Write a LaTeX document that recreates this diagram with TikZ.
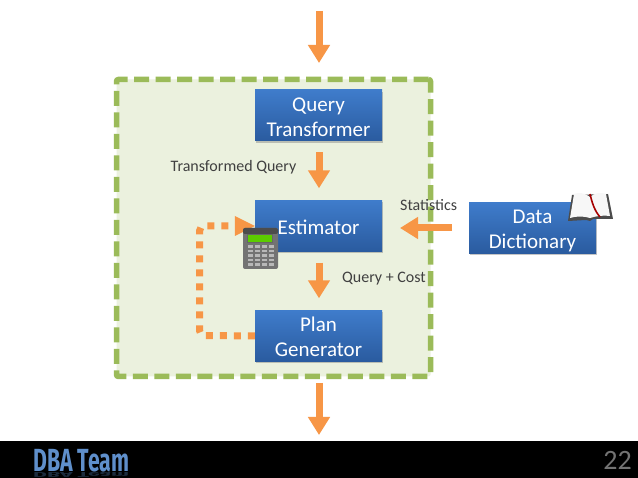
\documentclass[tikz,border=0pt]{standalone}
\usepackage{fontspec}
\setmainfont{Carlito}
\newfontfamily\footfont{Fira Sans}
\usetikzlibrary{arrows.meta,shadows,calc}
\definecolor{orangearrow}{HTML}{F79646}
\definecolor{framegreen}{HTML}{9BBB59}
\definecolor{framefill}{HTML}{EBF1DE}
\definecolor{boxtop}{HTML}{3F7CCB}
\definecolor{boxbot}{HTML}{2A5B9F}
\definecolor{footblue}{HTML}{5F8FCB}
\newcommand\lowerby[1]{\rule{0pt}{#1pt}}
\tikzset{
  x=1pt,y=-1pt,
  bluebox/.style={minimum width=127pt,minimum height=51pt,inner sep=0pt,align=center,
    top color=boxtop,bottom color=boxbot,text=white,font=\fontsize{21}{25}\selectfont,
    drop shadow={shadow xshift=1pt,shadow yshift=-2pt,opacity=.45}},
  flow/.style={draw=orangearrow,line width=7pt,-{Triangle[length=18pt,width=21pt]},shorten >=0pt},
  loopflow/.style={draw=orangearrow,line width=7pt,dash pattern=on 7pt off 7pt,rounded corners=5pt},
  tag/.style={text=black!75,font=\fontsize{16}{18}\selectfont,inner sep=0pt},
}
\begin{document}
\begin{tikzpicture}
\useasboundingbox (0,0) rectangle (638,478);
\fill[white] (0,0) rectangle (638,478);
% frame
\node (frame) [draw=framegreen,fill=framefill,line width=5.5pt,dash pattern=on 15pt off 6.5pt,rounded corners=2pt,
  minimum width=314pt,minimum height=297pt,inner sep=0pt] at (273.5,228) {};
% boxes
\node (qt) [bluebox] at (318.5,115.5) {\lowerby{17}Query\\Transformer};
\node (est) [bluebox] at (318.5,226) {\lowerby{17}Estimator};
\node (pg) [bluebox] at (318.5,336) {\lowerby{17}Plan\\Generator};
\node (dd) [bluebox] at (532.5,228) {\lowerby{19}Data\\Dictionary};
% free ends
\coordinate (inS) at (319,11);
\coordinate (inE) at (319,63);
\coordinate (outS) at (319,383);
\coordinate (outE) at (319,435);
\coordinate (statS) at (452,228);
\coordinate (statE) at (400,228);
\coordinate (bendA) at (199.5,335.5);
\coordinate (bendB) at (199.5,226);
% arrows
\draw[flow] (inS) -- (inE);
\draw[flow] ($(qt.south)+(0.5,11)$) -- ($(est.north)+(0.5,-12)$);
\draw[flow] ($(est.south)+(0.5,11)$) -- ($(pg.north)+(0.5,-12)$);
\draw[flow] (outS) -- (outE);
\draw[flow] (statS) -- (statE);
\draw[loopflow] (pg.west) -- (bendA) -- (bendB) -- ($(est.west)+(-12,0)$);
\draw[draw=none,fill=orangearrow] (est.west) -- ++(-20,-10) -- ++(0,20) -- cycle;
% labels
\node (lt) [tag,anchor=west] at (170.5,167.5) {Transformed Query};
\node (lc) [tag,anchor=west] at (342,279) {Query + Cost};
\node (ls) [tag,anchor=west] at (400,205) {Statistics};
% calculator
\begin{scope}[shift={(243,228)}]
  \fill[black!55,rounded corners=2pt] (0,0) rectangle (35,41);
  \fill[black!70,rounded corners=2pt] (0,0) rectangle (35,6);
  \fill[green!55!yellow!80!black,draw=black!60,line width=.5pt] (4,6) rectangle (29,14);
  \foreach \r in {0,1,2,3,4} \foreach \c in {0,1,2,3}
    \fill[black!28] ({5+\c*7},{17.5+\r*4.4}) rectangle ++(4.5,2.6);
\end{scope}
% book
\begin{scope}[shift={(569,192)}]
  \fill[black!70] (-1,29) -- (3,3) -- (39,2) -- (44,27) -- (24,27) -- (21,29) -- (17,28) -- cycle;
  \fill[black!3] (1,26) .. controls (7,24) and (15,24) .. (21,26) -- (21,5) .. controls (16,1) and (9,0) .. (5,2) -- cycle;
  \fill[black!3] (41,24) .. controls (35,23) and (27,24) .. (21,26) -- (21,5) .. controls (25,1) and (32,0) .. (37,2) -- cycle;
  \draw[red!65!black,line width=1.6pt] (21,2) .. controls (23,10) and (25,18) .. (31,25);
\end{scope}
% footer
\fill[black] (0,441) rectangle (638,478);
\node (brandshadow) [inner sep=0pt,anchor=north west,opacity=.3,text=footblue] at (33,472.5) {\footfont\fontsize{32}{32}\selectfont\scalebox{.665}[-.22]{\bfseries DBA Team}};
\node (brand) [inner sep=0pt,anchor=base west,text=footblue] at (33,472) {\footfont\fontsize{32}{32}\selectfont\scalebox{.665}[1]{\bfseries DBA Team}};
\node (page) [inner sep=0pt,anchor=east,text=black!55] at (632,460) {\fontsize{28}{28}\selectfont 22};
\end{tikzpicture}
\end{document}
